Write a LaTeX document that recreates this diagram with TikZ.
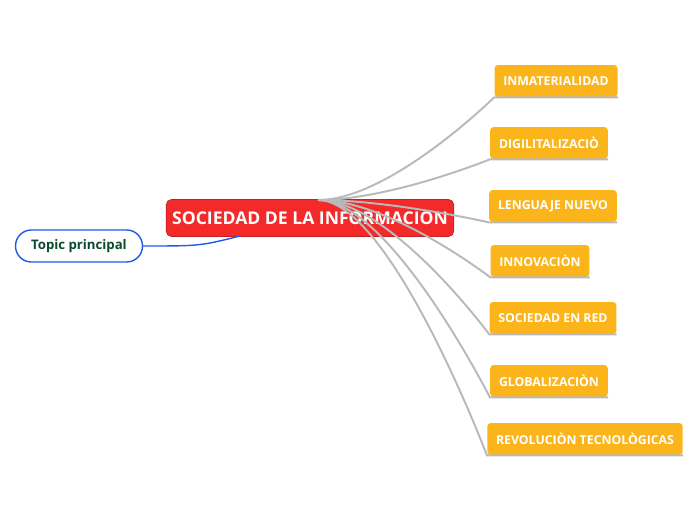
\documentclass[tikz,border=0pt]{standalone}
\usepackage{fontspec}
\setmainfont{Open Sans}
\usetikzlibrary{positioning}
\definecolor{rootred}{HTML}{F42A2A}
\definecolor{branchor}{HTML}{FBB41A}
\definecolor{topicblue}{HTML}{1E5BE6}
\definecolor{topicgreen}{HTML}{0B4A2E}
\tikzset{
  root/.style={draw=rootred!80!black, fill=rootred, rounded corners=3pt, text=white,
    font=\bfseries\fontsize{10}{12}\selectfont, minimum width=5.06cm, minimum height=0.74cm},
  branch/.style={fill=branchor, rounded corners=2pt, text=white, drop shadow/.style={},
    font=\bfseries\fontsize{7}{8}\selectfont, minimum height=0.64cm, inner xsep=5pt},
  topic/.style={draw=topicblue, thick, fill=white, rounded corners=9pt, text=topicgreen,
    font=\bfseries\fontsize{7.5}{9}\selectfont, minimum width=2.54cm, minimum height=0.64cm},
  link/.style={draw=gray!55, line width=1.1pt},
}
\begin{document}
\begin{tikzpicture}[x=0.02cm,y=-0.02cm]
  \useasboundingbox (0,0) rectangle (696,520);
  \node[root] (soc) at (310,218) {SOCIEDAD DE LA INFORMACION};
  \node[topic] (top) at (79,246) {Topic principal};
  \node[branch, minimum width=2.28cm] (inm) at (556,81) {INMATERIALIDAD};
  \node[branch, minimum width=2.24cm] (dig) at (549,143) {DIGILITALIZACIÒ};
  \node[branch, minimum width=2.40cm] (len) at (553,206) {LENGUAJE NUEVO};
  \node[branch, minimum width=1.80cm] (inn) at (540,261) {INNOVACIÒN};
  \node[branch, minimum width=2.40cm] (red) at (553,318) {SOCIEDAD EN RED};
  \node[branch, minimum width=2.26cm] (glo) at (549,381) {GLOBALIZACIÒN};
  \node[branch, minimum width=3.76cm] (rev) at (585,439) {REVOLUCIÒN TECNOLÒGICAS};
  \coordinate (hub) at (318,200);
  \foreach \b in {inm,dig,len,inn,red,glo,rev}
    \draw[link] (hub) .. controls (390,200) and (\b.south west) .. (\b.south west) -- (\b.south east);
  \draw[topicblue, thick] (top.east) .. controls (200,246) .. (240,236);
\end{tikzpicture}
\end{document}
